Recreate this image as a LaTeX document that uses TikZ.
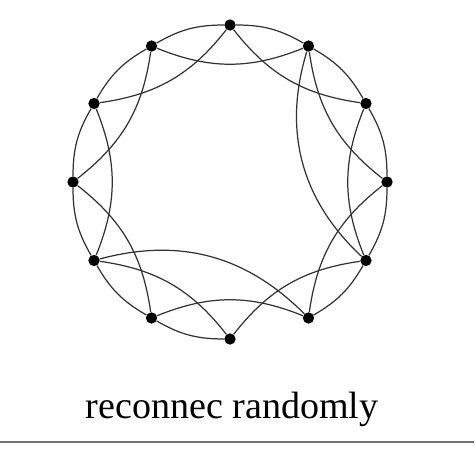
\documentclass[tikz,border=0pt]{standalone}
\usepackage{fontspec}
\setmainfont{Liberation Serif}
\begin{document}
\begin{tikzpicture}[x=0.03cm,y=0.03cm]
	\tikzset{
		dot/.style={circle,fill=black,inner sep=0pt,minimum size=0.34cm},
		link/.style={draw=black!80,line width=1.05pt}
	}
	\useasboundingbox (0,0) rectangle (474,474);

	% Ring of twelve nodes, n1 at the top, clockwise
	\begin{scope}[shift={(230,292)}]
		\foreach \i in {1,...,12}
			\node[dot] (n\i) at ({120-30*\i}:157) {};
	\end{scope}

	% Links to the next node
	\foreach \a/\b in {1/2,2/3,3/4,4/5,5/6,7/8,8/9,9/10,10/11,11/12,12/1}
		\draw[link] (n\a) to[bend left=15] (n\b);

	% Links to the second next node
	\foreach \a/\b in {1/3,2/4,3/5,4/6,5/7,6/8,7/9,8/10,9/11,10/12,11/1,12/2}
		\draw[link] (n\a) to[bend right=22] (n\b);

	% Reconnected links
	\draw[link] (n2) to[bend right=32] (n5);
	\draw[link] (n6) to[bend right=30] (n9);

	% Caption and rule
	\node[anchor=base] (caption) at (232,55) {\fontsize{32.5}{38}\selectfont reconnec randomly};
	\coordinate (ruleL) at (0,32);
	\coordinate (ruleR) at (474,32);
	\draw[black!55,line width=1.1pt] (ruleL) -- (ruleR);
\end{tikzpicture}
\end{document}
